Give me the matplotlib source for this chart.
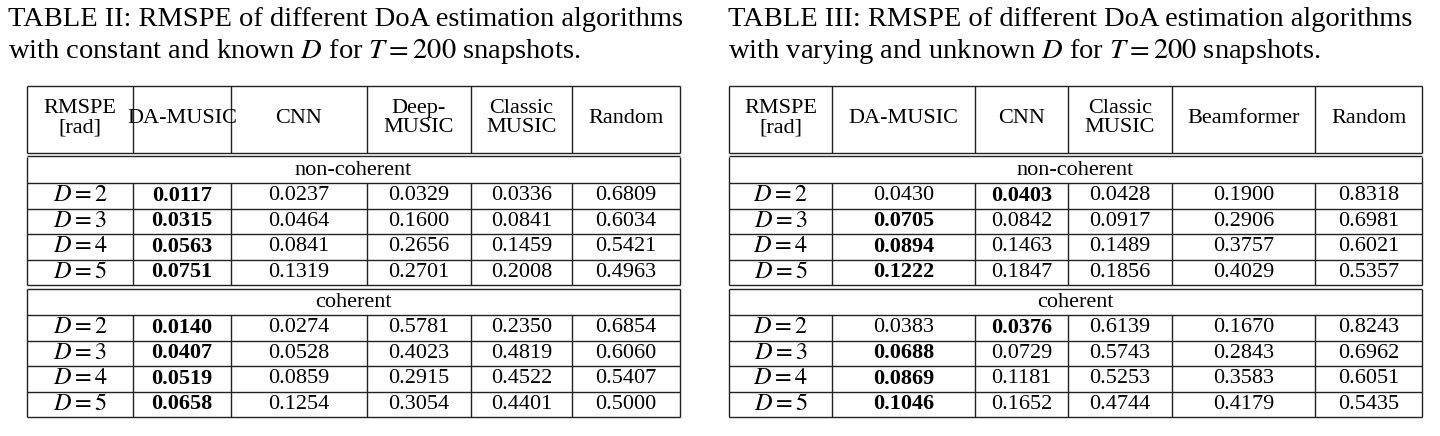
import matplotlib
matplotlib.use("Agg")
import matplotlib.pyplot as plt

plt.rcParams['font.family'] = ['Liberation Serif', 'DejaVu Serif']
plt.rcParams['mathtext.fontset'] = 'stix'

t2_title = ["TABLE II: RMSPE of different DoA estimation algorithms",
            "with constant and known $D$ for $T=200$ snapshots."]
t3_title = ["TABLE III: RMSPE of different DoA estimation algorithms",
            "with varying and unknown $D$ for $T=200$ snapshots."]
t2_headers = ["RMSPE\n[rad]", "DA-MUSIC", "CNN", "Deep-\nMUSIC", "Classic\nMUSIC", "Random"]
t3_headers = ["RMSPE\n[rad]", "DA-MUSIC", "CNN", "Classic\nMUSIC", "Beamformer", "Random"]
row_labels = ["$D=2$", "$D=3$", "$D=4$", "$D=5$"]
t2_noncoh = [["0.0117", "0.0237", "0.0329", "0.0336", "0.6809"],
             ["0.0315", "0.0464", "0.1600", "0.0841", "0.6034"],
             ["0.0563", "0.0841", "0.2656", "0.1459", "0.5421"],
             ["0.0751", "0.1319", "0.2701", "0.2008", "0.4963"]]
t2_coh = [["0.0140", "0.0274", "0.5781", "0.2350", "0.6854"],
          ["0.0407", "0.0528", "0.4023", "0.4819", "0.6060"],
          ["0.0519", "0.0859", "0.2915", "0.4522", "0.5407"],
          ["0.0658", "0.1254", "0.3054", "0.4401", "0.5000"]]
t3_noncoh = [["0.0430", "0.0403", "0.0428", "0.1900", "0.8318"],
             ["0.0705", "0.0842", "0.0917", "0.2906", "0.6981"],
             ["0.0894", "0.1463", "0.1489", "0.3757", "0.6021"],
             ["0.1222", "0.1847", "0.1856", "0.4029", "0.5357"]]
t3_coh = [["0.0383", "0.0376", "0.6139", "0.1670", "0.8243"],
          ["0.0688", "0.0729", "0.5743", "0.2843", "0.6962"],
          ["0.0869", "0.1181", "0.5253", "0.3583", "0.6051"],
          ["0.1046", "0.1652", "0.4744", "0.4179", "0.5435"]]
t2_bold_nc = [0, 0, 0, 0]; t2_bold_c = [0, 0, 0, 0]
t3_bold_nc = [1, 0, 0, 0]; t3_bold_c = [1, 0, 0, 0]

fig = plt.figure(figsize=(14.4, 4.36), dpi=100)
ax = fig.add_axes([0, 0, 1, 1])
ax.set_xlim(0, 1440); ax.set_ylim(436, 0); ax.axis('off')

def line(x0, x1, y0, y1, lw=1.0):
    ax.plot([x0, x1], [y0, y1], color='#222', lw=lw, solid_capstyle='butt')

def table(xs, title, headers, nc, c, bnc, bc, tx):
    ax.text(tx, 20, title[0], fontsize=20.5, va='center', ha='left')
    ax.text(tx, 51, title[1], fontsize=20.5, va='center', ha='left')
    L, R = xs[0], xs[-1]
    fs = 16
    line(L, R, 86, 86)
    for i, h in enumerate(headers):
        ax.text((xs[i] + xs[i+1]) / 2, 118, h, fontsize=fs, ha='center', va='center', linespacing=1.05)
    line(L, R, 153, 153); line(L, R, 156, 156)
    for x in xs:
        line(x, x, 86, 153)
    def block(top, name, data, bold):
        ax.text((L + R) / 2, top + 13, name, fontsize=fs, ha='center', va='center')
        hb = top + 26
        line(L, R, hb, hb)
        line(L, L, top, top + 26 + 4 * 25.5); line(R, R, top, top + 26 + 4 * 25.5)
        for r in range(4):
            y0 = hb + r * 25.5
            yc = y0 + 12.75
            ax.text((xs[0] + xs[1]) / 2, yc, row_labels[r], fontsize=fs + 1.5, ha='center', va='center')
            for j, v in enumerate(data[r]):
                ax.text((xs[j+1] + xs[j+2]) / 2, yc, v, fontsize=fs, ha='center', va='center',
                        fontweight='bold' if j == bold[r] else 'normal')
            line(L, R, y0 + 25.5, y0 + 25.5)
        for x in xs[1:-1]:
            line(x, x, hb, hb + 4 * 25.5)
        return hb + 4 * 25.5
    b = block(157, "non-coherent", nc, bnc)
    line(L, R, b + 4, b + 4)
    block(b + 4, "coherent", c, bc)

table([27, 133, 231, 367, 471, 572, 680], t2_title, t2_headers, t2_noncoh, t2_coh, t2_bold_nc, t2_bold_c, 8)
table([729, 832, 975, 1068, 1172, 1315, 1422], t3_title, t3_headers, t3_noncoh, t3_coh, t3_bold_nc, t3_bold_c, 728)

fig.savefig("out.png", dpi=100)
